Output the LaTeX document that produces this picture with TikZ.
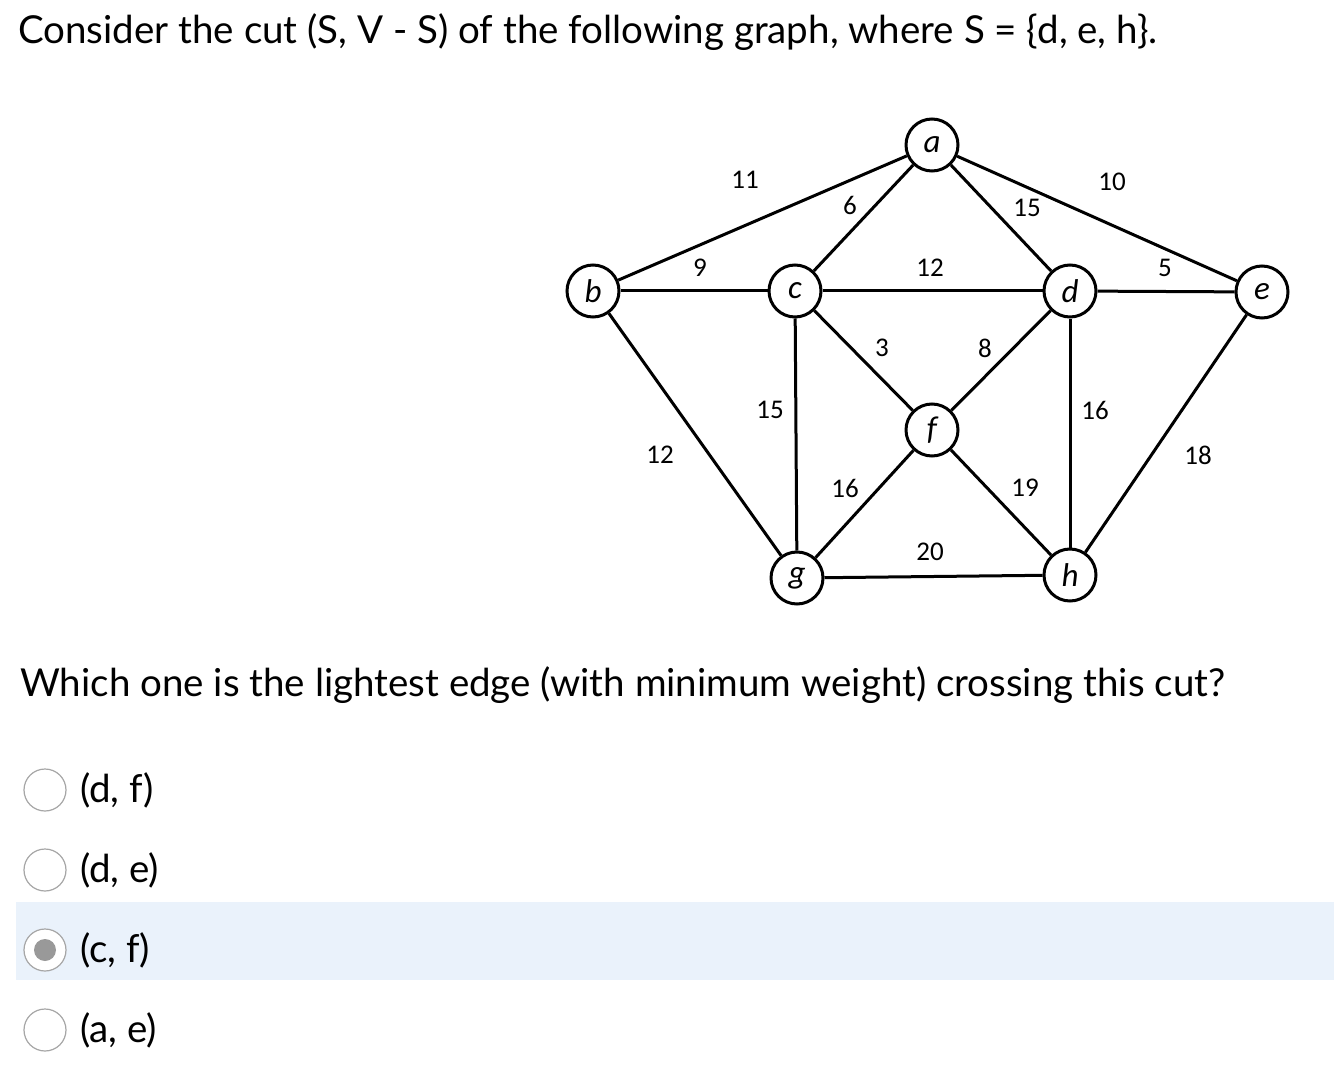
\documentclass[tikz,border=0pt]{standalone}
\usepackage{fontspec}
\setmainfont{Lato}
\newfontfamily\nodefont{Carlito}
\begin{document}
\begin{tikzpicture}[x=1pt,y=-1pt,
 vert/.style={circle,draw,line width=3pt,fill=white,minimum size=52pt,inner sep=0pt,font=\fontsize{33}{35}\selectfont\nodefont\itshape},
 edge/.style={line width=3pt},
 wt/.style={font=\fontsize{27}{29}\selectfont\nodefont},
 txt/.style={font=\fontsize{38.5}{44}\selectfont,anchor=west,inner sep=0pt},
 opt/.style={circle,draw=gray!70,line width=1.2pt,minimum size=42pt,inner sep=0pt,fill=white}]
\useasboundingbox (0,0) rectangle (1334,1078);
\fill[fill={rgb,255:red,234;green,242;blue,251}] (16,902) rectangle (1334,980);
\node[txt] (title) at (18,32) {Consider the cut (S, V - S) of the following graph, where S = \{d, e, h\}.};
\node[txt] (q) at (20,685) {Which one is the lightest edge (with minimum weight) crossing this cut?};
\node[vert] (a) at (932,145) {a};
\node[vert] (b) at (593,291) {b};
\node[vert] (c) at (795,291) {c};
\node[vert] (d) at (1070,291) {d};
\node[vert] (e) at (1262,292) {e};
\node[vert] (f) at (932,430) {f};
\node[vert] (g) at (797,578) {g};
\node[vert] (h) at (1070,575) {h};
\draw[edge] (b)--(a); \draw[edge] (b)--(c); \draw[edge] (b)--(g);
\draw[edge] (c)--(a); \draw[edge] (c)--(d); \draw[edge] (c)--(g); \draw[edge] (c)--(f);
\draw[edge] (a)--(d); \draw[edge] (a)--(e); \draw[edge] (d)--(e); \draw[edge] (d)--(f);
\draw[edge] (d)--(h); \draw[edge] (e)--(h); \draw[edge] (f)--(g); \draw[edge] (f)--(h);
\draw[edge] (g)--(h);
\node[wt] at (745,180) {11};
\node[wt] at (700,268) {9};
\node[wt] at (660,455) {12};
\node[wt] at (850,205) {6};
\node[wt] at (930,268) {12};
\node[wt] at (770,410) {15};
\node[wt] at (882,348) {3};
\node[wt] at (1027,208) {15};
\node[wt] at (1112,182) {10};
\node[wt] at (1165,268) {5};
\node[wt] at (985,348) {8};
\node[wt] at (1095,410) {16};
\node[wt] at (1198,455) {18};
\node[wt] at (845,488) {16};
\node[wt] at (1025,488) {19};
\node[wt] at (930,552) {20};
\node[opt] (o1) at (45,790) {};
\node[opt] (o2) at (45,870) {};
\node[opt] (o3) at (45,950) {};
\node[opt] (o4) at (45,1030) {};
\fill[gray!80] (o3) circle (11);
\node[txt] at (80,790) {(d, f)};
\node[txt] at (80,870) {(d, e)};
\node[txt] at (80,950) {(c, f)};
\node[txt] at (80,1030) {(a, e)};
\end{tikzpicture}
\end{document}
